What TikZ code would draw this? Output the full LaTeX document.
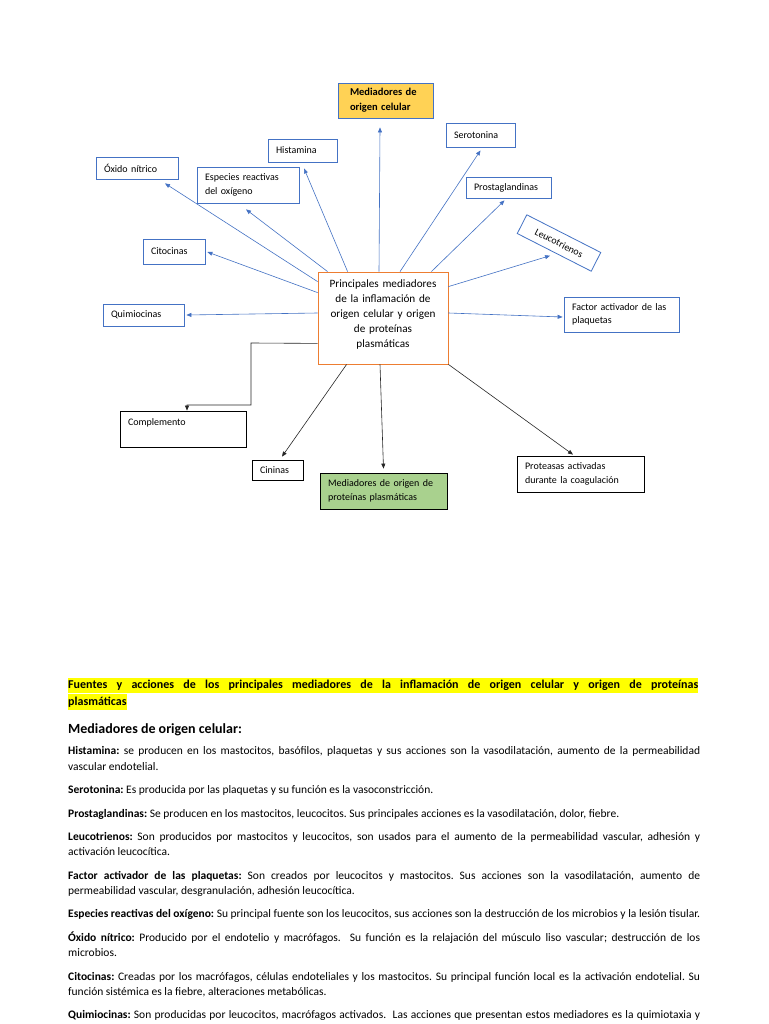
\documentclass[tikz,border=0pt]{standalone}
\usepackage{fontspec}
\setmainfont{Carlito}
\usepackage{tikz}
\usetikzlibrary{arrows.meta}
\usetikzlibrary{calc}

\definecolor{mc_blue}{RGB}{68,114,196}
\definecolor{mc_orange}{RGB}{237,125,49}
\definecolor{mc_gold}{RGB}{255,210,85}
\definecolor{mc_green}{RGB}{169,209,142}
\definecolor{mc_yellow}{RGB}{255,255,0}

\newcommand{\hlstrut}{\rule[-4.5pt]{0pt}{15.5pt}}
\newcommand{\fullline}[2]{\makebox[#1][s]{#2}}
\frenchspacing

\begin{document}
\begin{tikzpicture}[x=1pt, y=-1pt,
        box_style/.style={draw=mc_blue, line width=0.8pt, align=left, inner xsep=8pt, inner ysep=0pt, font=\fontsize{10}{13.5}\selectfont},
        dark_box_style/.style={box_style, draw=black},
        center_style/.style={draw=mc_orange, line width=0.8pt, align=center, text width=118pt, minimum height=92pt, inner xsep=6pt, font=\fontsize{11.2}{15}\selectfont},
        edge_style/.style={draw=mc_blue, line width=0.6pt, -{Triangle[length=5pt,width=4pt]}},
        plasma_edge_style/.style={draw=black!85, line width=0.6pt, -{Triangle[length=5pt,width=4pt]}},
        text_style/.style={anchor=north west, inner sep=0pt, text width=632pt, align=justify, font=\fontsize{11.5}{15.5}\selectfont},
        line_style/.style={anchor=north west, inner sep=0pt, font=\fontsize{11.5}{15.5}\selectfont},
        title_style/.style={anchor=north west, inner sep=0pt, fill=mc_yellow, font=\bfseries\fontsize{12}{17}\selectfont}]

        \fill [white] (0,0) rectangle (768,1024);
        \useasboundingbox (0,0) rectangle (768,1024);

        % diagram
        \node [center_style](n1) at (383,318) {Principales mediadores\\de la inflamación de\\origen celular y origen\\de proteínas\\plasmáticas\\[-6pt]\mbox{}};

        \node [box_style, fill=mc_gold, inner xsep=12pt, text width=71pt, minimum height=35pt, font=\bfseries\fontsize{10.5}{15}\selectfont](n2) at (385.5,100.5) {Mediadores de\\origen celular};

        \node [box_style, text width=53pt, minimum height=23pt](n3) at (302.5,150.5) {Histamina};

        \node [box_style, text width=53pt, minimum height=24pt](n4) at (480.5,135) {Serotonina};

        \node [box_style, text width=66pt, minimum height=22pt](n5) at (137,168) {Óxido nítrico};

        \node [box_style, text width=86pt, minimum height=36pt](n6) at (248,185) {Especies reactivas\\del oxígeno};

        \node [box_style, text width=69pt, minimum height=21pt](n7) at (508.5,187.5) {Prostaglandinas};

        \node [box_style, align=center, minimum width=83pt, minimum height=21pt, rotate=-27](n8) at (559,243) {Leucotrienos};

        \node [box_style, text width=46pt, minimum height=25pt](n9) at (174,251.5) {Citocinas};

        \node [box_style, text width=65pt, minimum height=22pt](n10) at (143.5,315) {Quimiocinas};

        \node [box_style, text width=99pt, minimum height=35pt](n11) at (621.5,314.5) {Factor activador de las\\plaquetas};

        \node [dark_box_style, text width=110pt, minimum height=36pt](n12) at (183,429) {Complemento\\\mbox{}};

        \node [dark_box_style, text width=35pt, minimum height=20pt](n13) at (277.5,470) {Cininas};

        \node [dark_box_style, fill=mc_green, text width=111pt, minimum height=36pt](n14) at (383.5,491) {Mediadores de origen de\\proteínas plasmáticas};

        \node [dark_box_style, text width=111pt, minimum height=36pt](n15) at (580.5,474) {Proteasas activadas\\durante la coagulación};

        % origen celular
        \draw [edge_style] ($(n1.north)+(-4,0)$) -- ($(n2.south)+(-5.5,9)$);

        \draw [edge_style] ($(n1.north west)+(30,0)$) -- ($(n3.south)+(1.5,6)$);

        \draw [edge_style] ($(n1.north west)+(10,0)$) -- ($(n6.south)+(-2,6)$);

        \draw [edge_style] ($(n1.north west)+(0,10)$) -- ($(n5.south)+(28,4)$);

        \draw [edge_style] ($(n1.north west)+(0,21)$) -- ($(n9.east)+(2,0.5)$);

        \draw [edge_style] ($(n1.west)+(0,-5)$) -- ($(n10.east)+(2,0)$);

        \draw [edge_style] ($(n1.north)+(17,0)$) -- ($(n4.south)+(0,3)$);

        \draw [edge_style] ($(n1.north east)+(-17,0)$) -- ($(n7.south)+(-4,2)$);

        \draw [edge_style] ($(n1.north east)+(0,15)$) -- ($(n8.south)+(-4,3)$);

        \draw [edge_style] ($(n1.east)+(0,-5)$) -- ($(n11.west)+(-1,2.5)$);

        % origen plasmatico
        \draw [plasma_edge_style] ($(n1.south west)+(0,-21)$) -- (251,343) -- (251,405) -| ($(n12.north)+(4,0)$);

        \draw [plasma_edge_style] ($(n1.south west)+(29,0)$) -- ($(n13.north)+(4.5,-3)$);

        \draw [plasma_edge_style] ($(n1.south)+(-3,0)$) -- ($(n14.north)+(0,-4)$);

        \draw [plasma_edge_style] (n1.south east) -- ($(n15.north)+(-7.5,-1)$);

        % texto
        \node [title_style](t1) at (68,677.5) {\hlstrut\fullline{630pt}{Fuentes y acciones de los principales mediadores de la inflamación de origen celular y origen de proteínas}};

        \node [title_style](t2) at (68,694) {\hlstrut plasmáticas};

        \node [anchor=base west, inner sep=0pt, font=\bfseries\fontsize{14}{17}\selectfont](t3) at (68,733.5) {Mediadores de origen celular:};

        \node [text_style](t4) at (68,743.85) {\strut\textbf{Histamina:} se producen en los mastocitos, basófilos, plaquetas y sus acciones son la vasodilatación, aumento de la permeabilidad\linebreak vascular endotelial.};

        \node [text_style](t5) at (68,782.65) {\strut\textbf{Serotonina:} Es producida por las plaquetas y su función es la vasoconstricción.};

        \node [text_style](t6) at (68,805.95) {\strut\textbf{Prostaglandinas:} Se producen en los mastocitos, leucocitos. Sus principales acciones es la vasodilatación, dolor, fiebre.};

        \node [text_style](t7) at (68,829.25) {\strut\textbf{Leucotrienos:} Son producidos por mastocitos y leucocitos, son usados para el aumento de la permeabilidad vascular, adhesión y\linebreak activación leucocítica.};

        \node [text_style](t8) at (68,868.05) {\strut\textbf{Factor activador de las plaquetas:} Son creados por leucocitos y mastocitos. Sus acciones son la vasodilatación, aumento de\linebreak permeabilidad vascular, desgranulación, adhesión leucocítica.};

        \node [line_style](t9) at (68,906.85) {\strut\fullline{632pt}{\textbf{Especies reactivas del oxígeno:} Su principal fuente son los leucocitos, sus acciones son la destrucción de los microbios y la lesión tisular.}};

        \node [text_style](t10) at (68,930.15) {\strut\textbf{Óxido nítrico:} Producido por el endotelio y macrófagos.\ \ Su función es la relajación del músculo liso vascular; destrucción de los\linebreak microbios.};

        \node [text_style](t11) at (68,968.95) {\strut\textbf{Citocinas:} Creadas por los macrófagos, células endoteliales y los mastocitos. Su principal función local es la activación endotelial. Su\linebreak función sistémica es la fiebre, alteraciones metabólicas.};

        \node [line_style](t12) at (68,1007.75) {\strut\fullline{632pt}{\textbf{Quimiocinas:} Son producidas por leucocitos, macrófagos activados.\ \ Las acciones que presentan estos mediadores es la quimiotaxia y}};

\end{tikzpicture}
\end{document}
